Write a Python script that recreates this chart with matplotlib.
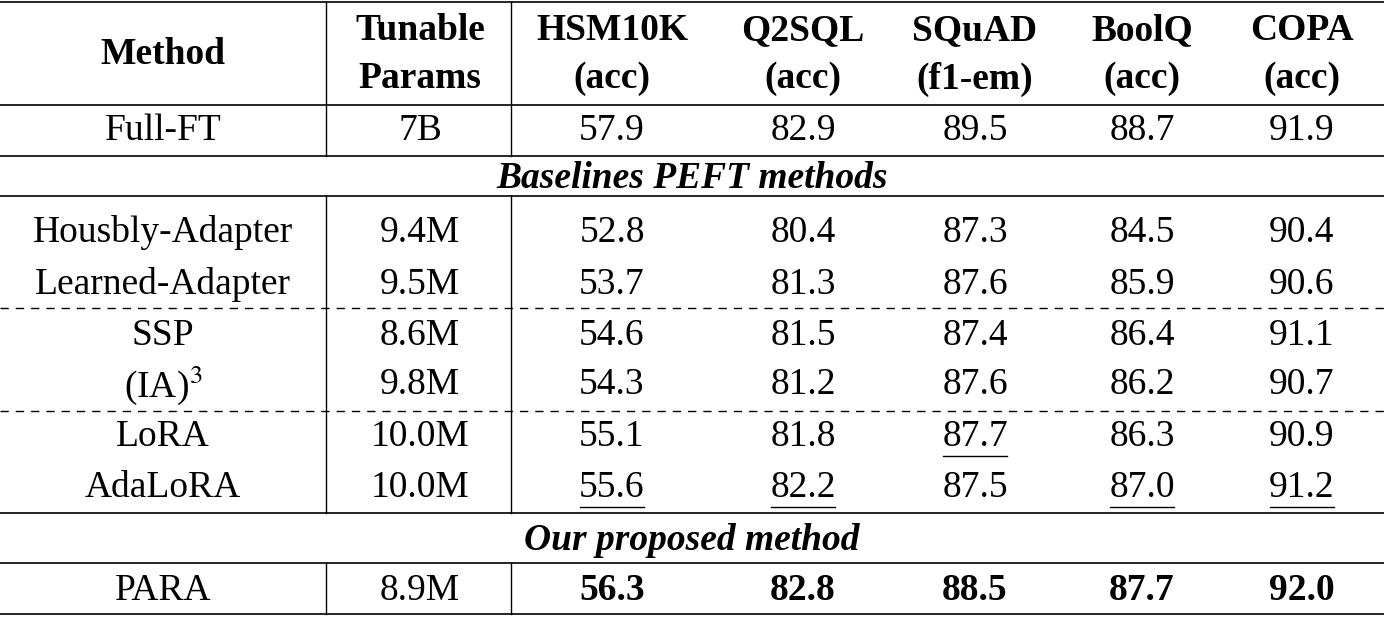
import matplotlib.pyplot as plt

plt.rcParams['font.family'] = ['Liberation Serif', 'DejaVu Serif']
plt.rcParams['mathtext.fontset'] = 'stix'

headers = [("Method", None), ("Tunable", "Params"), ("HSM10K", "(acc)"), ("Q2SQL", "(acc)"),
           ("SQuAD", "(f1-em)"), ("BoolQ", "(acc)"), ("COPA", "(acc)")]
col_x = [163, 420, 612, 803, 975, 1142, 1302]

full_ft = ["Full-FT", "7B", "57.9", "82.9", "89.5", "88.7", "91.9"]
baselines = [
    ["Housbly-Adapter", "9.4M", "52.8", "80.4", "87.3", "84.5", "90.4"],
    ["Learned-Adapter", "9.5M", "53.7", "81.3", "87.6", "85.9", "90.6"],
    ["SSP", "8.6M", "54.6", "81.5", "87.4", "86.4", "91.1"],
    ["(IA)$^3$", "9.8M", "54.3", "81.2", "87.6", "86.2", "90.7"],
    ["LoRA", "10.0M", "55.1", "81.8", "87.7", "86.3", "90.9"],
    ["AdaLoRA", "10.0M", "55.6", "82.2", "87.5", "87.0", "91.2"],
]
underlined = {(4, 4), (5, 2), (5, 3), (5, 5), (5, 6)}
para = ["PARA", "8.9M", "56.3", "82.8", "88.5", "87.7", "92.0"]

fig = plt.figure(figsize=(13.84, 6.17), dpi=100)
ax = fig.add_axes([0, 0, 1, 1])
ax.set_xlim(0, 1384)
ax.set_ylim(617, 0)
ax.axis('off')

fs = 27
# rules
for y in [2, 105, 156, 196, 513, 563, 614]:
    ax.plot([0, 1384], [y, y], color='black', lw=1.2)
for y in [308, 411]:
    ax.plot([0, 1384], [y, y], color='black', lw=1, ls=(0, (6, 5)))
for x in [326, 511]:
    for y0, y1 in [(2, 156), (196, 513), (563, 614)]:
        ax.plot([x, x], [y0, y1], color='black', lw=1)

# header
for x, (a, b) in zip(col_x, headers):
    if b is None:
        ax.text(x, 54, a, ha='center', va='center', fontsize=fs, fontweight='bold')
    else:
        ax.text(x, 31, a, ha='center', va='center', fontsize=fs, fontweight='bold')
        ax.text(x, 79, b, ha='center', va='center', fontsize=fs, fontweight='bold')

for x, v in zip(col_x, full_ft):
    ax.text(x, 131, v, ha='center', va='center', fontsize=fs)

ax.text(692, 179, "Baselines PEFT methods", ha='center', va='center', fontsize=fs,
        fontweight='bold', fontstyle='italic')

row_y = [233, 285, 336, 385, 437, 488]
for i, (y, row) in enumerate(zip(row_y, baselines)):
    for j, (x, v) in enumerate(zip(col_x, row)):
        ax.text(x, y, v, ha='center', va='center', fontsize=fs)
        if (i, j) in underlined:
            ax.plot([x - 32, x + 32], [y + 19, y + 19], color='black', lw=1)

ax.text(692, 541, "Our proposed method", ha='center', va='center', fontsize=fs,
        fontweight='bold', fontstyle='italic')

for j, (x, v) in enumerate(zip(col_x, para)):
    ax.text(x, 591, v, ha='center', va='center', fontsize=fs,
            fontweight='bold' if j >= 2 else 'normal')

fig.savefig('out.png', dpi=100)
